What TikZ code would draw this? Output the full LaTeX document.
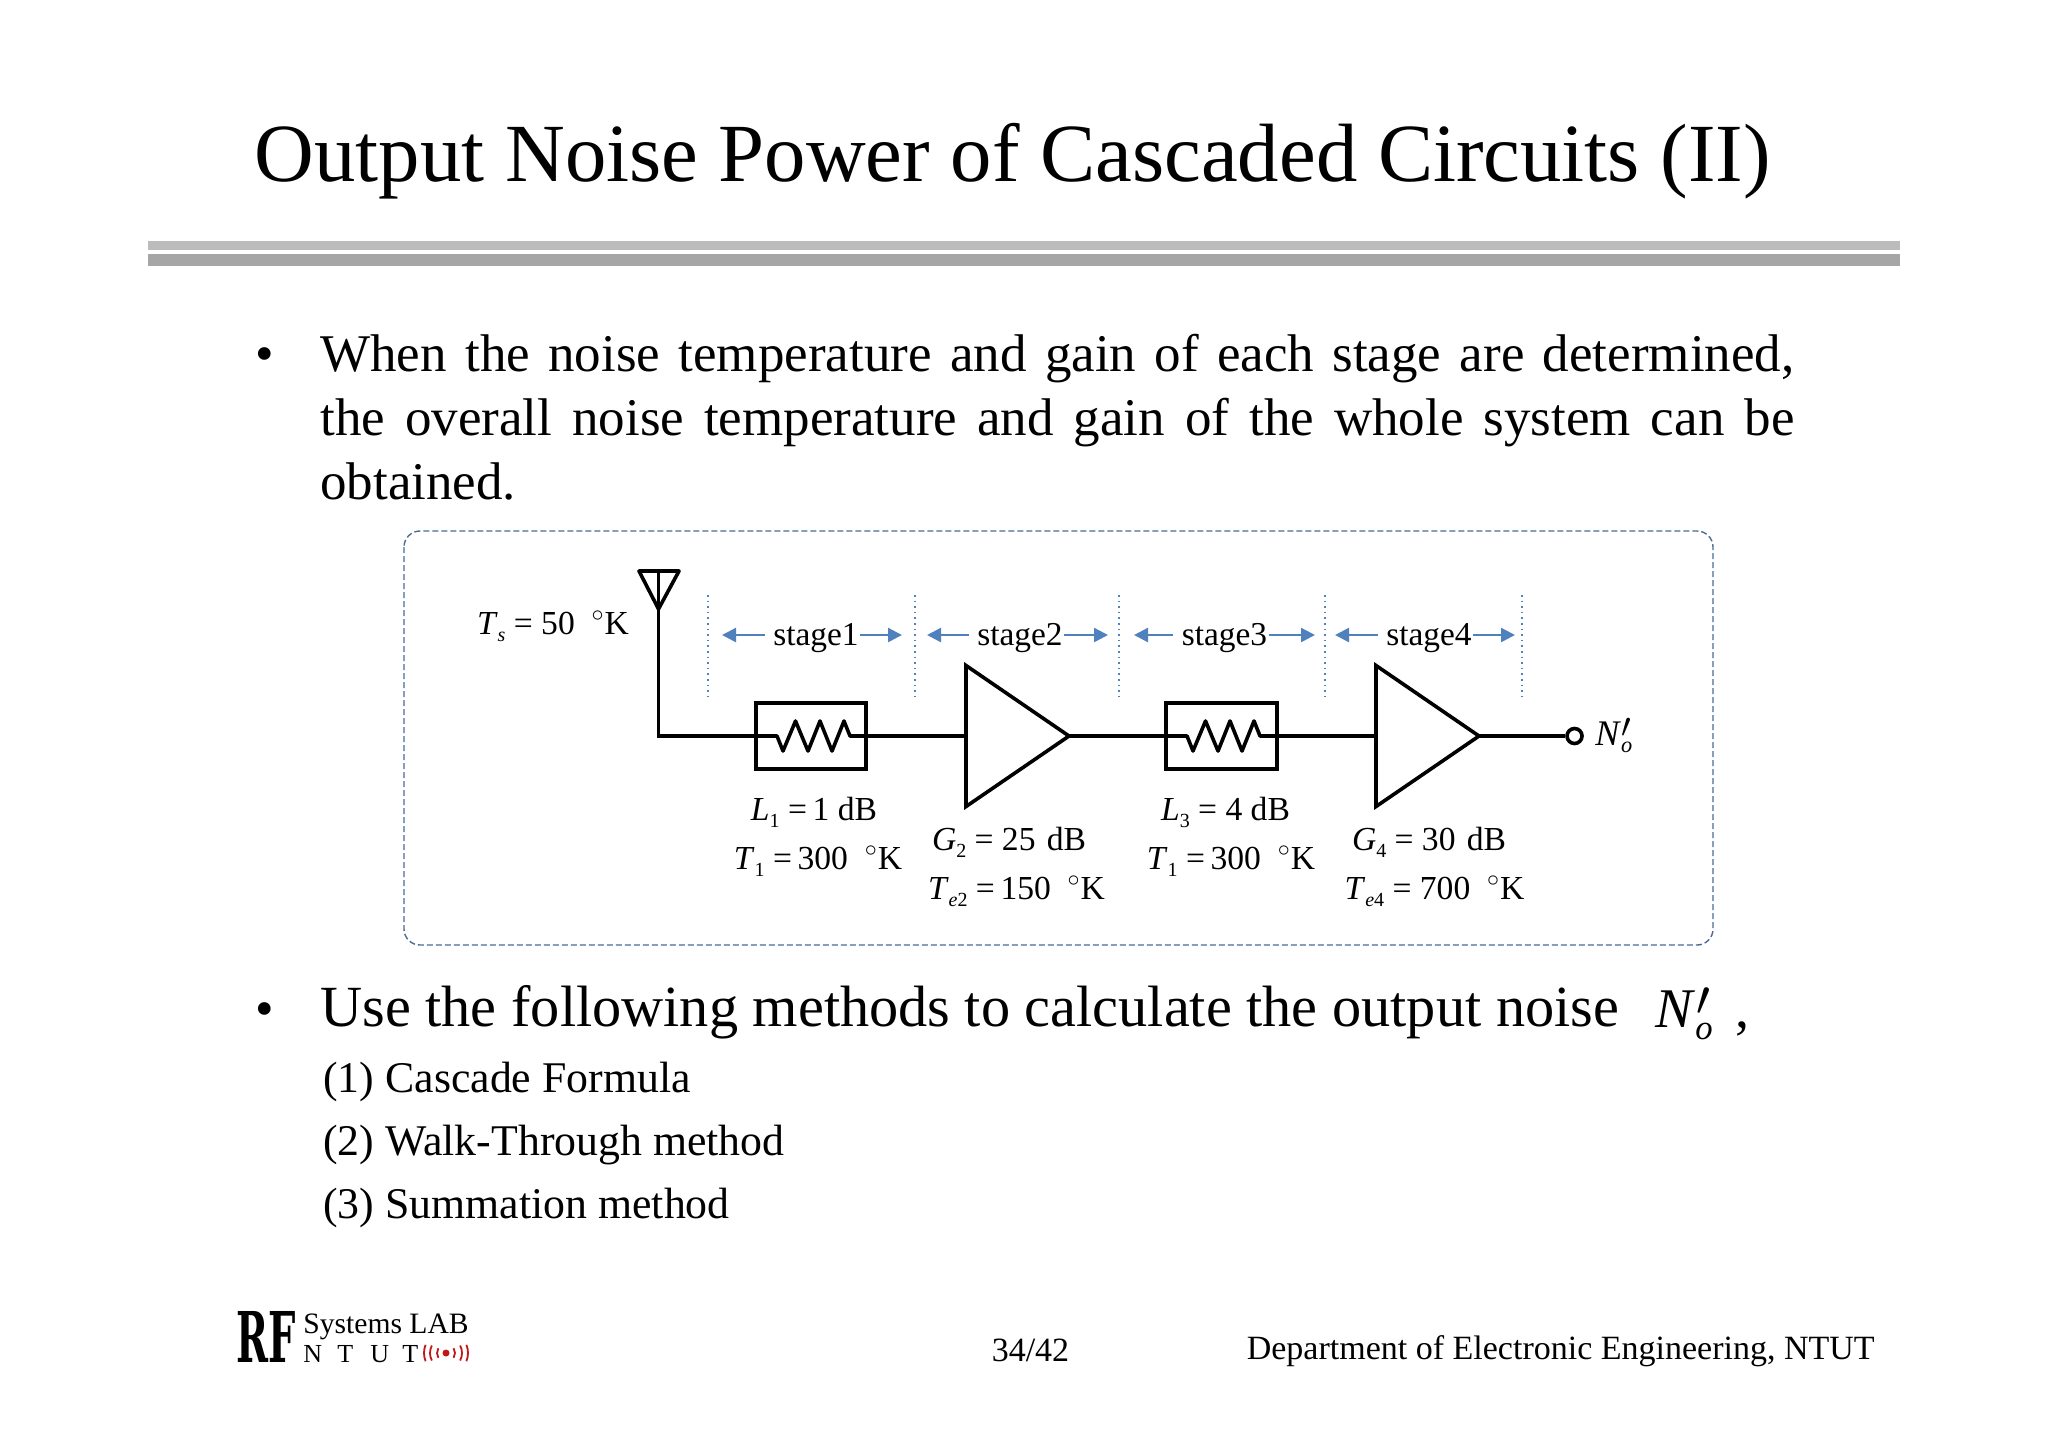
\documentclass[tikz,border=0pt]{standalone}
\usepackage{fontspec}
\setmainfont{Liberation Serif}
\usetikzlibrary{arrows.meta,shapes.geometric}
\newfontfamily\logofont{DejaVu Serif}
\newcommand{\fs}[1]{\fontsize{#1}{#1}\selectfont}
\newcommand{\lsym}[2]{\textit{#1}\raisebox{-.22em}{\fs{10}#2}}
\newcommand{\degk}{\enspace$^{\circ}$K}
\newcommand{\noprime}{\textit{N}\rlap{\raisebox{.2em}{\kern.02em\textit{$\prime$}}}\raisebox{-.22em}{\scalebox{.62}{\textit{o}}}}
\definecolor{framecol}{HTML}{4A6A94}
\definecolor{stagecol}{HTML}{4F81BD}
\definecolor{barlight}{HTML}{BCBCBC}
\definecolor{bardark}{HTML}{A6A6A6}
\definecolor{logored}{HTML}{C01818}
\tikzset{
	wire/.style={line width=1.8pt, line join=miter},
	lossbox/.style={draw, line width=1.8pt, minimum width=55pt, minimum height=33pt, inner sep=0pt, outer sep=0pt},
	ampbox/.style={draw, line width=1.8pt, isosceles triangle, isosceles triangle stretches, minimum width=70.5pt, minimum height=51.5pt, inner sep=0pt, outer sep=0pt, anchor=lower side},
	divider/.style={stagecol, line width=.8pt, dotted},
	dimarrow/.style={stagecol, line width=1.2pt, -{Triangle[length=7pt, width=7pt]}},
	stagelabel/.style={inner sep=0pt, anchor=base, font=\fs{16.7}},
	param/.style={inner sep=0pt, anchor=base, font=\fs{16.8}},
	bodytext/.style={inner sep=0pt, anchor=base west, font=\fs{26.5}},
	itemtext/.style={inner sep=0pt, anchor=base west, font=\fs{21.9}},
}
\begin{document}
\begin{tikzpicture}[x=.5pt, y=-.5pt]
	\useasboundingbox (0, 0) rectangle (2048, 1447);
	% heading
	\node (heading) [inner sep=0pt, anchor=base west, font=\fs{41.35}] at (254.5, 181) {Output Noise Power of Cascaded Circuits (II)};
	\fill[barlight] (148, 241) rectangle (1900, 250);
	\fill[bardark] (148, 254) rectangle (1900, 266);
	% first bullet
	\node (bullet1) [bodytext] at (255, 371.5) {•};
	\node (para1) [inner sep=0pt, anchor=north west, text width=737pt, align=justify, font=\fontsize{26.5}{32}\selectfont] at (320, 333.5)
		{When the noise temperature and gain of each stage are determined,\linebreak the overall noise temperature and gain of the whole system can be\linebreak obtained.};
	% frame
	\draw[framecol, line width=.7pt, dash pattern=on 3pt off 1.5pt, rounded corners=8pt] (404, 531) rectangle (1713, 945);
	% stages
	\foreach \i/\xd in {0/708, 1/915, 2/1119, 3/1325, 4/1522}{
		\coordinate (divtop\i) at (\xd, 595);
		\coordinate (divbot\i) at (\xd, 697);
		\draw[divider] (divtop\i) -- (divbot\i);
	}
	\foreach \i/\lx/\tx/\rx in {1/722/816/902, 2/927/1020/1108, 3/1134/1224.5/1315, 4/1335/1429/1515}{
		\node (stage\i) [stagelabel] at (\tx, 645.5) {stage\i};
		\coordinate (ltip\i) at (\lx, 635);
		\coordinate (rtip\i) at (\rx, 635);
		\draw[dimarrow, shorten <=4pt] (stage\i.west |- ltip\i) -- (ltip\i);
		\draw[dimarrow, shorten <=.5pt] (stage\i.east |- rtip\i) -- (rtip\i);
	}
	% circuit
	\coordinate (anttop) at (658.5, 571);
	\coordinate (anttip) at (658.5, 609);
	\node (res1) [lossbox] at (811, 736) {};
	\node (amp1) [ampbox] at (966, 736) {};
	\node (res2) [lossbox, minimum width=55.5pt] at (1221.5, 736) {};
	\node (amp2) [ampbox] at (1376, 736) {};
	\node (out) [draw, circle, line width=1.8pt, minimum size=7.5pt, inner sep=0pt] at (1574.5, 736) {};
	\draw[wire, line join=round] (639, 571) -- (679, 571) -- (anttip) -- cycle;
	\draw[wire] (anttop) -- (anttip);
	\draw[wire] (anttip) |- (res1.west);
	\foreach \nm in {res1, res2}{
		\draw[wire, line join=round] (\nm.west) -- ++(21, 0) -- ++(6, 15) -- ++(12.5, -30) -- ++(12.5, 30) -- ++(12, -30) -- ++(12, 30) -- ++(12, -30) -- ++(6, 15) -- (\nm.east);
	}
	\draw[wire] (res1.east) -- (amp1.lower side);
	\draw[wire] (amp1.apex) -- (res2.west);
	\draw[wire] (res2.east) -- (amp2.lower side);
	\draw[wire] (amp2.apex) -- (out);
	% parameters
	\node (tsrc) [param] at (553, 634) {\lsym{T}{\textit{s}} = 50\degk};
	\node (lossa) [param] at (814, 820) {\lsym{L}{1} =\,1 dB};
	\node (tempa) [param] at (818, 869) {\lsym{T}{1} =\,300\degk};
	\node (gaina) [param] at (1009, 850) {\lsym{G}{2} = 25\,\,dB};
	\node (tempb) [param] at (1016.5, 899) {\lsym{T}{\textit{e}2} =\,150\degk};
	\node (lossb) [param] at (1225.5, 820) {\lsym{L}{3} = 4 dB};
	\node (tempc) [param] at (1231, 869) {\lsym{T}{1} =\,300\degk};
	\node (gainb) [param] at (1429, 850) {\lsym{G}{4} = 30\,\,dB};
	\node (tempd) [param] at (1434.5, 899) {\lsym{T}{\textit{e}4} = 700\degk};
	\node (noutlab) [param, anchor=base west, font=\fs{18}] at (1595, 745) {\noprime};
	% second bullet
	\node (bullet2) [bodytext] at (255, 1026) {•};
	\node (para2) [bodytext, font=\fs{29.15}] at (320, 1026) {Use the following methods to calculate the output noise};
	\node (nout) [bodytext, font=\fs{28}] at (1655, 1027) {\noprime};
	\node (comma) [bodytext, font=\fs{28}] at (1735, 1027) {,};
	\node (item1) [itemtext] at (323, 1092) {(1) Cascade Formula};
	\node (item2) [itemtext] at (323, 1155.5) {(2) Walk-Through method};
	\node (item3) [itemtext] at (323, 1218.5) {(3) Summation method};
	% footer
	\node (pagenum) [param, font=\fs{17}] at (1030.5, 1361) {34/42};
	\node (dept) [param, anchor=base east, font=\fs{17}] at (1875, 1359) {Department of Electronic Engineering, NTUT};
	% logo
	\node (logorf) [inner sep=0pt, anchor=base west, xscale=.55, font=\logofont\bfseries\fs{35}] at (236, 1362) {RF};
	\node (logotop) [inner sep=0pt, anchor=base west, font=\fs{14.8}] at (303, 1333) {Systems LAB};
	\foreach \ch/\xl in {N/303, T/337, U/370, T/402}{
		\node (logo\xl) [inner sep=0pt, anchor=base west, font=\fs{13}] at (\xl, 1362) {\ch};
	}
	\node (signal) [circle, fill=logored, minimum size=3.5pt, inner sep=0pt] at (446, 1353) {};
	\foreach \r/\a in {4.5/32, 8/28, 11/22}{
		\draw[logored, line width=.9pt] (signal) ++(-\a:\r pt) arc[start angle=-\a, end angle=\a, radius=\r pt];
		\draw[logored, line width=.9pt] (signal) ++(180-\a:\r pt) arc[start angle=180-\a, end angle=180+\a, radius=\r pt];
	}
\end{tikzpicture}
\end{document}
